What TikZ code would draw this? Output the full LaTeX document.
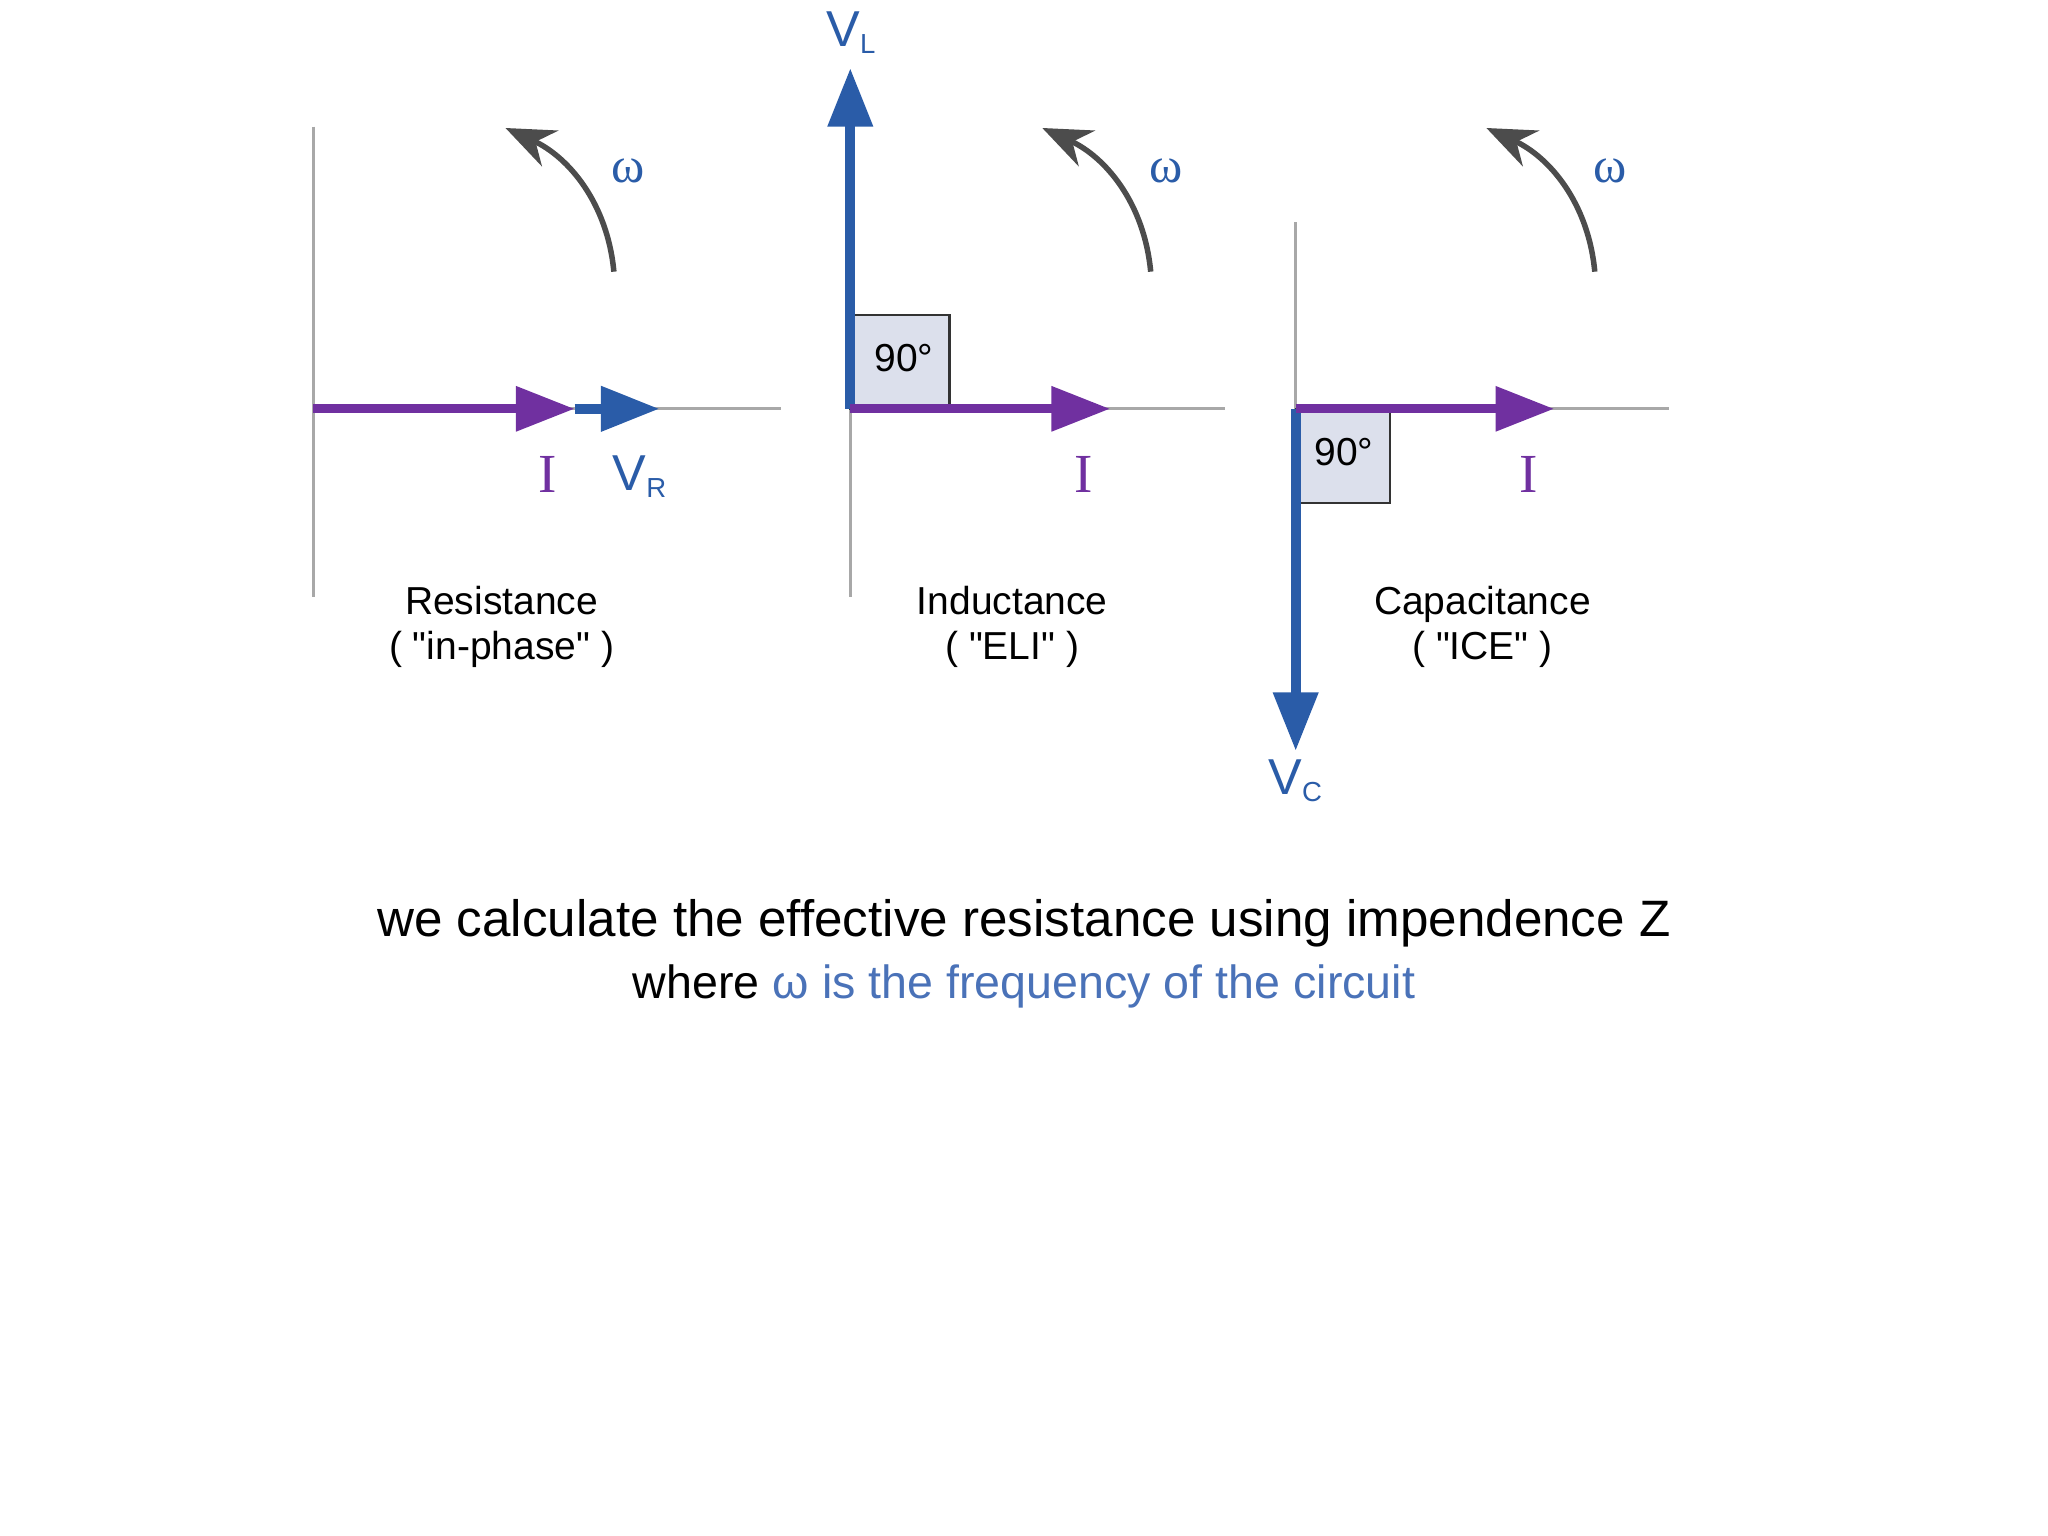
\documentclass[tikz,border=0pt]{standalone}
\usepackage{fontspec}
\setmainfont{Liberation Sans}
\newfontfamily\serifI{Liberation Serif}
\usetikzlibrary{arrows.meta}
\definecolor{vblue}{HTML}{2A5CA8}
\definecolor{ipurp}{HTML}{7030A0}
\definecolor{axg}{HTML}{A8A8A8}
\definecolor{boxf}{HTML}{DCE0EC}
\definecolor{tblue}{HTML}{4A72B8}
\tikzset{
 axis/.style={draw=axg,line width=1.3pt},
 iarrow/.style={draw=ipurp,line width=4pt,-{Triangle[length=0.9cm,width=0.66cm]}},
 varrow/.style={draw=vblue,line width=4.5pt,-{Triangle[length=0.9cm,width=0.66cm]}},
 rot/.style={draw=black!70,line width=2.4pt,-{Stealth[length=0.75cm,width=0.6cm]}},
 lbl/.style={font=\fontsize{17}{20}\selectfont},
 sym/.style={font=\fontsize{22}{24}\selectfont},
 isym/.style={font=\serifI\fontsize{24}{24}\selectfont,text=ipurp},
 wsym/.style={font=\serifI\fontsize{22}{24}\selectfont,text=vblue},
 anglebox/.style={draw=black!80,fill=boxf,line width=1pt},
}
\begin{document}
\begin{tikzpicture}[x=0.02cm,y=-0.02cm]
\useasboundingbox (0,0) rectangle (1568,1176);
% panel 1
\coordinate (o1) at (240,313);
\draw[axis] (240,97) -- (240,457);
\draw[axis] (o1) -- (598,313);
\coordinate (i1) at (440,313); \coordinate (v1) at (505,313);
\draw[iarrow] (o1) -- (i1);
\draw[varrow] (i1) -- (v1);
\node[isym] (I1) at (419,363) {I};
\node[sym,text=vblue] (VR) at (490,365) {V\textsubscript{\fontsize{12}{12}\selectfont R}};
\coordinate (r1a) at (470,208); \coordinate (r1b) at (387,98);
\draw[rot] (r1a) .. controls (465,155) and (435,120) .. (r1b);
\node[wsym] (w1) at (481,131) {ω};
\node[lbl,align=center] (t1) at (384,480) {Resistance\\( \textquotedbl in-phase\textquotedbl\ )};
% panel 2
\coordinate (o2) at (651,313);
\draw[axis] (o2) -- (651,457);
\draw[axis] (o2) -- (938,313);
\draw[anglebox] (651,241) rectangle (727,313);
\node[lbl] (a2) at (692,274) {90°};
\coordinate (v2) at (651,52);
\draw[varrow] (o2) -- (v2);
\node[sym,text=vblue] (VL) at (652,25) {V\textsubscript{\fontsize{12}{12}\selectfont L}};
\coordinate (i2) at (850,313);
\draw[iarrow] (o2) -- (i2);
\node[isym] (I2) at (830,363) {I};
\coordinate (r2a) at (881,208); \coordinate (r2b) at (798,98);
\draw[rot] (r2a) .. controls (876,155) and (846,120) .. (r2b);
\node[wsym] (w2) at (893,131) {ω};
\node[lbl,align=center] (t2) at (775,480) {Inductance\\( \textquotedbl ELI\textquotedbl\ )};
% panel 3
\coordinate (o3) at (992,313);
\draw[axis] (992,170) -- (o3);
\draw[axis] (o3) -- (1278,313);
\draw[anglebox] (992,313) rectangle (1064,385);
\node[lbl] (a3) at (1029,346) {90°};
\coordinate (v3) at (992,575);
\draw[varrow] (o3) -- (v3);
\node[sym,text=vblue] (VC) at (992,598) {V\textsubscript{\fontsize{12}{12}\selectfont C}};
\coordinate (i3) at (1190,313);
\draw[iarrow] (o3) -- (i3);
\node[isym] (I3) at (1170,363) {I};
\coordinate (r3a) at (1221,208); \coordinate (r3b) at (1138,98);
\draw[rot] (r3a) .. controls (1216,155) and (1186,120) .. (r3b);
\node[wsym] (w3) at (1233,131) {ω};
\node[lbl,align=center] (t3) at (1135,480) {Capacitance\\( \textquotedbl ICE\textquotedbl\ )};
% caption
\node[font=\fontsize{22.3}{26}\selectfont] (c1) at (784,707) {we calculate the effective resistance using impendence Z};
\node[font=\fontsize{20.3}{24}\selectfont] (c2) at (784,755) {where \textcolor{tblue}{ω is the frequency of the circuit}};
\end{tikzpicture}
\end{document}
